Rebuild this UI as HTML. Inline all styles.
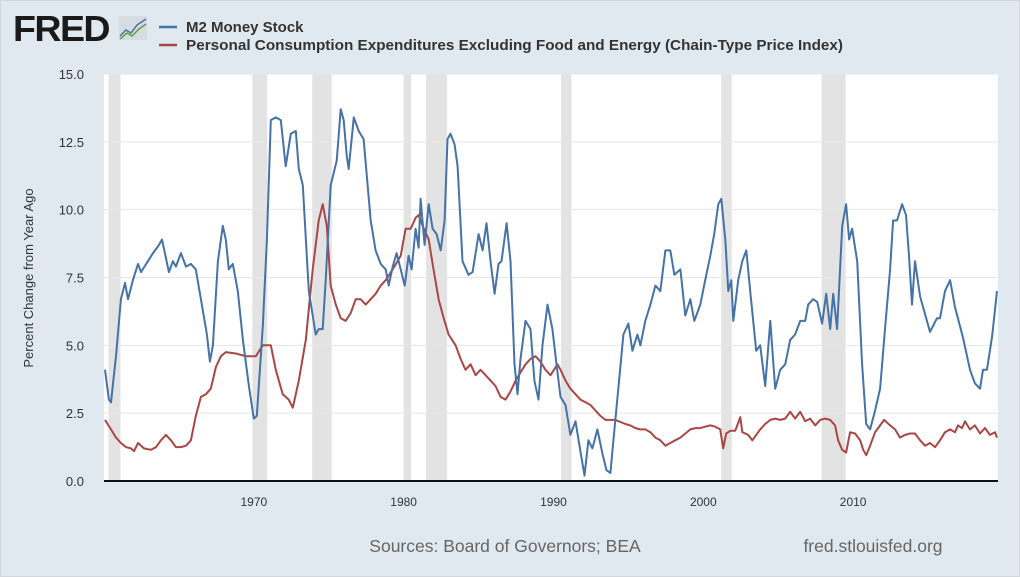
<!DOCTYPE html>
<html><head><meta charset="utf-8"><style>
html,body{margin:0;padding:0;width:1020px;height:577px;overflow:hidden;background:#fff}
#wrap{position:absolute;left:0;top:0;width:1018px;height:575px;background:#e1e9f0;border:1px solid #cfd6dc}
text{font-family:"Liberation Sans",sans-serif}
</style></head><body>
<div id="wrap">
<svg id="chart" width="1020" height="577" style="position:absolute;left:-1px;top:-1px">
  <text x="13" y="41" font-size="36" font-weight="bold" fill="#1a1a1a" letter-spacing="-1.5" textLength="96" lengthAdjust="spacingAndGlyphs">FRED</text>
  <g>
    <rect x="119" y="16" width="28" height="24" fill="#d6dde2"/>
    <polyline points="120,36 126,30 131,33 137,25 146,19" fill="none" stroke="#4572a7" stroke-width="1.5"/>
    <polyline points="120,39 127,33 132,36 139,29 146,24" fill="none" stroke="#6a9a3a" stroke-width="1.5"/>
  </g>
  <g>
    <g>
      <line x1="159" y1="27" x2="177" y2="27" stroke="#4572a7" stroke-width="2.5"/>
      <text x="186" y="32" font-size="15" font-weight="bold" fill="#333">M2 Money Stock</text>
    </g>
    <g>
      <line x1="159" y1="45" x2="177" y2="45" stroke="#aa4643" stroke-width="2.5"/>
      <text x="186" y="50" font-size="15" font-weight="bold" fill="#333" textLength="657" lengthAdjust="spacingAndGlyphs">Personal Consumption Expenditures Excluding Food and Energy (Chain-Type Price Index)</text>
    </g>
  </g>
  <rect x="104" y="74" width="894" height="407" fill="#fff"/>
  <g id="rec"></g>
  <g id="grid"></g>
  <g id="yticks"></g>
  <g id="xticks"></g>
  <text transform="translate(33,278) rotate(-90)" text-anchor="middle" font-size="13" fill="#333">Percent Change from Year Ago</text>
  <g id="series"></g>
  <line x1="104" y1="481" x2="998" y2="481" stroke="#111" stroke-width="2"/>
  <text x="505" y="552" text-anchor="middle" font-size="17.5" fill="#666">Sources: Board of Governors; BEA</text>
  <text x="873" y="552" text-anchor="middle" font-size="17.5" fill="#666">fred.stlouisfed.org</text>
</svg>
</div>
<script>
const yTicks=[0,2.5,5,7.5,10,12.5,15];
const yTickLabels=["0.0","2.5","5.0","7.5","10.0","12.5","15.0"];
const xTicks=[1970,1980,1990,2000,2010];
const recessions=[[1960.3,1961.1],[1969.9,1970.9],[1973.9,1975.2],[1980.0,1980.5],[1981.5,1982.9],[1990.5,1991.2],[2001.2,2001.9],[2007.9,2009.5]];
const m2Years=[1960.07,1960.33,1960.47,1960.8,1961.13,1961.4,1961.6,1961.93,1962.27,1962.47,1962.93,1963.27,1963.67,1963.87,1964.33,1964.6,1964.8,1965.13,1965.47,1965.8,1966.13,1966.47,1966.87,1967.07,1967.27,1967.6,1967.93,1968.13,1968.33,1968.6,1968.93,1969.27,1969.67,1970.0,1970.2,1970.6,1970.87,1971.13,1971.47,1971.8,1972.13,1972.47,1972.8,1973.0,1973.27,1973.67,1973.93,1974.13,1974.33,1974.6,1974.8,1975.13,1975.53,1975.8,1976.0,1976.2,1976.33,1976.67,1977.0,1977.33,1977.8,1978.13,1978.47,1978.8,1979.0,1979.27,1979.53,1979.8,1980.07,1980.33,1980.53,1980.8,1981.0,1981.13,1981.4,1981.67,1981.93,1982.2,1982.47,1982.73,1982.93,1983.13,1983.4,1983.6,1983.93,1984.33,1984.6,1985.0,1985.27,1985.53,1985.8,1986.07,1986.33,1986.53,1986.87,1987.13,1987.4,1987.6,1987.8,1988.13,1988.47,1988.73,1989.0,1989.27,1989.6,1989.93,1990.2,1990.47,1990.8,1991.13,1991.47,1991.8,1992.07,1992.33,1992.6,1992.93,1993.27,1993.53,1993.8,1994.0,1994.33,1994.67,1995.0,1995.27,1995.6,1995.8,1996.13,1996.47,1996.8,1997.13,1997.47,1997.8,1998.07,1998.47,1998.8,1999.13,1999.4,1999.8,2000.13,2000.47,2000.73,2001.0,2001.2,2001.47,2001.67,2001.87,2002.0,2002.33,2002.6,2002.87,2003.13,2003.53,2003.8,2004.13,2004.47,2004.8,2005.13,2005.47,2005.8,2006.13,2006.47,2006.8,2007.0,2007.33,2007.6,2007.93,2008.2,2008.47,2008.67,2008.93,2009.27,2009.53,2009.73,2009.93,2010.27,2010.6,2010.87,2011.13,2011.47,2011.8,2012.13,2012.47,2012.67,2012.93,2013.27,2013.53,2013.73,2013.93,2014.13,2014.47,2015.13,2015.6,2015.8,2016.13,2016.47,2016.8,2017.33,2017.8,2018.13,2018.47,2018.67,2018.93,2019.27,2019.6];
const m2Values=[4.1,3.0,2.9,4.6,6.7,7.3,6.7,7.4,8.0,7.7,8.1,8.4,8.7,8.9,7.7,8.1,7.9,8.4,7.9,8.0,7.8,6.7,5.4,4.4,5.0,8.1,9.4,8.9,7.8,8.0,7.0,5.2,3.5,2.3,2.4,5.7,8.9,13.3,13.4,13.3,11.6,12.8,12.9,11.5,10.9,7.0,6.1,5.4,5.6,5.6,7.4,10.9,11.8,13.7,13.3,12.0,11.5,13.4,12.9,12.6,9.6,8.5,8.0,7.8,7.2,7.9,8.4,7.8,7.2,8.3,7.8,9.3,8.6,10.4,8.7,10.2,9.3,9.1,8.5,9.6,12.6,12.8,12.4,11.6,8.1,7.6,7.7,9.1,8.5,9.5,8.1,6.9,8.0,8.1,9.5,8.1,4.3,3.2,4.5,5.9,5.6,3.7,3.0,5.0,6.5,5.6,4.3,3.1,2.8,1.7,2.2,1.1,0.2,1.5,1.2,1.9,1.0,0.4,0.3,1.5,3.4,5.4,5.8,4.8,5.4,5.0,5.9,6.5,7.2,7.0,8.5,8.5,7.6,7.8,6.1,6.7,5.9,6.5,7.4,8.3,9.1,10.2,10.4,8.9,7.0,7.4,5.9,7.4,8.1,8.5,7.0,4.8,5.0,3.5,5.9,3.4,4.1,4.3,5.2,5.4,5.9,5.9,6.5,6.7,6.6,5.8,6.9,5.6,6.9,5.6,9.4,10.2,8.9,9.3,8.1,4.3,2.1,1.9,2.6,3.4,5.6,7.8,9.6,9.6,10.2,9.8,8.3,6.5,8.1,6.8,5.5,6.0,6.0,7.0,7.4,6.4,5.3,4.1,3.6,3.4,4.1,4.1,5.3,7.0];
const pceYears=[1960.07,1960.47,1960.8,1961.13,1961.47,1961.8,1962.0,1962.27,1962.67,1963.13,1963.47,1963.8,1964.13,1964.47,1964.8,1965.13,1965.47,1965.8,1966.13,1966.47,1966.8,1967.13,1967.47,1967.8,1968.13,1968.8,1969.47,1970.13,1970.6,1971.13,1971.47,1971.93,1972.33,1972.6,1973.0,1973.47,1973.93,1974.33,1974.6,1974.87,1975.13,1975.47,1975.8,1976.13,1976.47,1976.8,1977.13,1977.47,1977.8,1978.13,1978.47,1978.8,1979.27,1979.8,1980.13,1980.47,1980.8,1981.0,1981.27,1981.67,1981.93,1982.33,1982.67,1983.0,1983.47,1983.8,1984.13,1984.47,1984.8,1985.13,1985.47,1985.8,1986.13,1986.47,1986.8,1987.13,1987.47,1987.8,1988.13,1988.47,1988.8,1989.13,1989.47,1989.8,1990.27,1990.47,1990.8,1991.13,1991.47,1991.8,1992.13,1992.47,1992.8,1993.13,1993.47,1994.13,1994.8,1995.13,1995.47,1995.8,1996.13,1996.47,1996.8,1997.13,1997.47,1997.8,1998.13,1998.47,1998.8,1999.13,1999.47,1999.8,2000.13,2000.47,2000.8,2001.13,2001.33,2001.53,2001.8,2002.13,2002.47,2002.6,2003.0,2003.27,2003.8,2004.13,2004.47,2004.8,2005.13,2005.47,2005.8,2006.13,2006.47,2006.8,2007.13,2007.47,2007.8,2008.13,2008.47,2008.8,2009.0,2009.27,2009.53,2009.8,2010.13,2010.47,2010.67,2010.87,2011.13,2011.47,2011.8,2012.07,2012.47,2012.8,2013.13,2013.47,2013.8,2014.13,2014.47,2014.8,2015.13,2015.47,2015.8,2016.13,2016.47,2016.8,2017.0,2017.27,2017.47,2017.8,2018.13,2018.47,2018.8,2019.13,2019.47,2019.6];
const pceValues=[2.25,1.9,1.6,1.4,1.25,1.2,1.1,1.4,1.2,1.15,1.25,1.5,1.7,1.5,1.25,1.25,1.3,1.5,2.4,3.1,3.2,3.4,4.2,4.6,4.75,4.7,4.6,4.6,5.0,5.0,4.1,3.2,3.0,2.7,3.7,5.2,7.8,9.6,10.2,9.4,7.2,6.5,6.0,5.9,6.2,6.7,6.7,6.5,6.7,6.9,7.2,7.4,7.8,8.3,9.3,9.3,9.7,9.8,9.4,8.9,8.0,6.7,6.0,5.4,5.0,4.5,4.1,4.3,3.9,4.1,3.9,3.7,3.5,3.1,3.0,3.3,3.7,4.0,4.3,4.5,4.6,4.4,4.1,3.9,4.3,4.1,3.7,3.4,3.2,3.0,2.9,2.8,2.6,2.4,2.25,2.25,2.1,2.05,1.95,1.9,1.9,1.8,1.6,1.5,1.3,1.4,1.5,1.6,1.75,1.9,1.95,1.95,2.0,2.05,2.0,1.9,1.2,1.75,1.85,1.85,2.35,1.8,1.7,1.5,1.9,2.1,2.25,2.3,2.25,2.3,2.55,2.3,2.55,2.2,2.3,2.05,2.25,2.3,2.25,2.05,1.5,1.15,1.05,1.8,1.75,1.5,1.15,0.95,1.3,1.8,2.05,2.25,2.05,1.9,1.6,1.7,1.75,1.75,1.5,1.3,1.4,1.25,1.5,1.8,1.9,1.8,2.05,1.95,2.2,1.9,2.05,1.75,1.95,1.7,1.8,1.6];
const NS='http://www.w3.org/2000/svg';
const X0=104,X1=998,Y0=481,Y1=74,D0=1960,D1=2019.67;
function xS(d){return X0+(d-D0)/(D1-D0)*(X1-X0);}
function yS(v){return Y0-v/15*(Y0-Y1);}
function mk(tag,attrs,parent){const e=document.createElementNS(NS,tag);for(const k in attrs)e.setAttribute(k,attrs[k]);parent.appendChild(e);return e;}
const rec=document.getElementById('rec');
recessions.forEach(r=>{const e=mk('rect',{x:xS(r[0]),y:Y1,width:xS(r[1])-xS(r[0]),height:Y0-Y1,fill:'#e3e3e3'},rec);

});
const grid=document.getElementById('grid'),yt=document.getElementById('yticks');
yTicks.forEach((v,i)=>{if(v>0){const g=mk('line',{x1:X0,x2:X1,y1:yS(v),y2:yS(v),stroke:'#e6e6e6','stroke-width':1},grid);

}
const t=mk('text',{x:84,y:yS(v)+5,'text-anchor':'end','font-size':13,fill:'#333'},yt);t.textContent=yTickLabels[i];

});
const xt=document.getElementById('xticks');
xTicks.forEach(d=>{const t=mk('text',{x:xS(d),y:506,'text-anchor':'middle','font-size':12,fill:'#333'},xt);t.textContent=d;

});
const ser=document.getElementById('series');
function line(ys,vs,c,name){const p=mk('polyline',{points:ys.map((d,i)=>xS(d).toFixed(1)+','+yS(vs[i]).toFixed(1)).join(' '),fill:'none',stroke:c,'stroke-width':2,'stroke-linejoin':'round'},ser);

}
line(pceYears,pceValues,'#aa4643','pce-core-line');
line(m2Years,m2Values,'#4572a7','m2-money-stock-line');
</script>
</body></html>
